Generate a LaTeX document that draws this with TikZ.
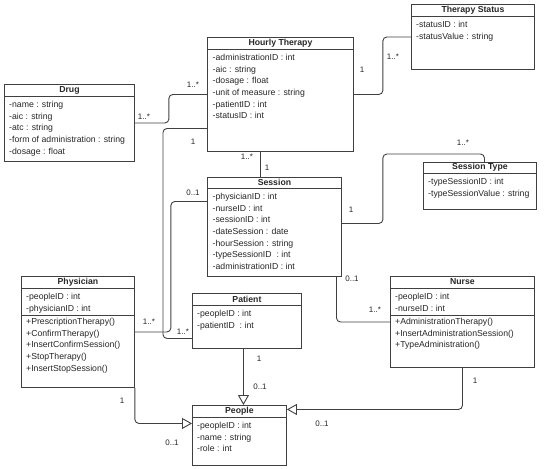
\documentclass[tikz,border=0pt]{standalone}
\usepackage{fontspec}
\setmainfont{Liberation Sans}
\usetikzlibrary{arrows.meta}
\tikzset{every node/.style={font=\fontsize{8.7}{11.65}\selectfont, text=black!85},
         cls/.style={draw=black!75, line width=0.9pt, rectangle, anchor=north west, inner sep=0pt},
         ttl/.style={font=\fontsize{8.7}{11.65}\selectfont\bfseries, inner sep=0pt},
         attr/.style={anchor=north west, align=left, inner sep=0pt},
         mult/.style={font=\fontsize{8}{9}\selectfont, inner sep=0pt},
         sep/.style={draw=black!75, line width=0.9pt},
         link/.style={draw=black!75, line width=0.9pt, rounded corners=4pt},
         gen/.style={link, -{Triangle[open,length=10pt,width=11pt]}}}

\begin{document}
\begin{tikzpicture}[x=1pt,y=-1pt]
   \useasboundingbox (0,0) rectangle (550,469);
   % class boxes
   \node[cls, minimum width=123, minimum height=65] (ts) at (411,4) {};
   \node[ttl] (tsT) at ([yshift=-6]ts.north) {Therapy Status};
   \draw[sep] ([yshift=-12]ts.north west) -- ([yshift=-12]ts.north east);
   \node[attr] (tsA) at ([xshift=5,yshift=-17]ts.north west) {-statusID : int\\-statusValue : string};

   \node[cls, minimum width=146, minimum height=114] (ht) at (207,37) {};
   \node[ttl] (htT) at ([yshift=-6.5]ht.north) {Hourly Therapy};
   \draw[sep] ([yshift=-12]ht.north west) -- ([yshift=-12]ht.north east);
   \node[attr] (htA) at ([xshift=5.5,yshift=-17]ht.north west) {-administrationID : int\\-aic : string\\-dosage : float\\-unit of measure : string\\-patientID : int\\-statusID : int};

   \node[cls, minimum width=130, minimum height=77] (drug) at (4,84) {};
   \node[ttl] (drugT) at ([yshift=-6]drug.north) {Drug};
   \draw[sep] ([yshift=-12]drug.north west) -- ([yshift=-12]drug.north east);
   \node[attr] (drugA) at ([xshift=5,yshift=-17]drug.north west) {-name : string\\-aic : string\\-atc : string\\-form of administration : string\\-dosage : float};

   \node[cls, minimum width=134, minimum height=99] (ses) at (207,177) {};
   \node[ttl] (sesT) at ([yshift=-5.5]ses.north) {Session};
   \draw[sep] ([yshift=-11]ses.north west) -- ([yshift=-11]ses.north east);
   \node[attr] (sesA) at ([xshift=5.5,yshift=-16]ses.north west) {-physicianID : int\\-nurseID : int\\-sessionID : int\\-dateSession : date\\-hourSession : string\\-typeSessionID~~: int\\-administrationID : int};

   \node[cls, minimum width=113, minimum height=47] (st) at (423,162) {};
   \node[ttl] (stT) at ([yshift=-5.5]st.north) {Session Type};
   \draw[sep] ([yshift=-11]st.north west) -- ([yshift=-11]st.north east);
   \node[attr] (stA) at ([xshift=5,yshift=-16]st.north west) {-typeSessionID : int\\-typeSessionValue : string};

   \node[cls, minimum width=113, minimum height=111] (phys) at (21,276) {};
   \node[ttl] (physT) at ([yshift=-6]phys.north) {Physician};
   \draw[sep] ([yshift=-12]phys.north west) -- ([yshift=-12]phys.north east);
   \node[attr] (physA) at ([xshift=5,yshift=-17]phys.north west) {-peopleID : int\\-physicianID : int};
   \draw[sep] ([yshift=-39]phys.north west) -- ([yshift=-39]phys.north east);
   \node[attr] (physM) at ([xshift=5,yshift=-42]phys.north west) {+PrescriptionTherapy()\\+ConfirmTherapy()\\+InsertConfirmSession()\\+StopTherapy()\\+InsertStopSession()};

   \node[cls, minimum width=109, minimum height=55] (pat) at (192,293) {};
   \node[ttl] (patT) at ([yshift=-6]pat.north) {Patient};
   \draw[sep] ([yshift=-12]pat.north west) -- ([yshift=-12]pat.north east);
   \node[attr] (patA) at ([xshift=5,yshift=-17]pat.north west) {-peopleID : int\\-patientID~~: int};

   \node[cls, minimum width=144, minimum height=91] (nurse) at (390,276) {};
   \node[ttl] (nurseT) at ([yshift=-6]nurse.north) {Nurse};
   \draw[sep] ([yshift=-12]nurse.north west) -- ([yshift=-12]nurse.north east);
   \node[attr] (nurseA) at ([xshift=5,yshift=-17]nurse.north west) {-peopleID : int\\-nurseID : int};
   \draw[sep] ([yshift=-39]nurse.north west) -- ([yshift=-39]nurse.north east);
   \node[attr] (nurseM) at ([xshift=5,yshift=-42]nurse.north west) {+AdministrationTherapy()\\+InsertAdministrationSession()\\+TypeAdministration()};

   \node[cls, minimum width=94, minimum height=60] (ppl) at (192,405) {};
   \node[ttl] (pplT) at ([yshift=-6]ppl.north) {People};
   \draw[sep] ([yshift=-12]ppl.north west) -- ([yshift=-12]ppl.north east);
   \node[attr] (pplA) at ([xshift=5,yshift=-17]ppl.north west) {-peopleID : int\\-name : string\\-role : int};

   % associations
   \draw[link] (drug.east) -- ++(34,0) |- (ht.west);
   \draw[link] (ht.east) -- ++(29,0) |- (ts.west);
   \draw[link] ([xshift=-20]ht.south) -- ([xshift=-20]ht.south |- ses.north);
   \draw[link] ([yshift=-34]ht.west) -- ++(-44,0) |- ([yshift=-17.5]pat.west);
   \draw[link] (phys.east) -- ++(36,0) |- ([yshift=25.5]ses.west);
   \draw[link] ([yshift=3.5]ses.east) -- ++(41,0) |- ([xshift=4.5,yshift=8]st.north) -- ([xshift=4.5]st.north);
   \draw[link] ([xshift=62]ses.south) |- (nurse.west);
   % generalisations
   \draw[gen] ([xshift=-3.5]pat.south) -- ([xshift=-3.5]pat.south |- ppl.north);
   \draw[gen] (phys.south east) |- ([yshift=12]ppl.west);
   \draw[gen] (nurse.south) |- ([yshift=26]ppl.east);

   % multiplicities
   \node[mult] (m1)  at (144,117) {1..*};
   \node[mult] (m2)  at (193,85)  {1..*};
   \node[mult] (m3)  at (362,70)  {1};
   \node[mult] (m4)  at (393,57)  {1..*};
   \node[mult] (m5)  at (247,157) {1..*};
   \node[mult] (m6)  at (267,168) {1};
   \node[mult] (m7)  at (193,142) {1};
   \node[mult] (m8)  at (183,332) {1..*};
   \node[mult] (m9)  at (149,322) {1..*};
   \node[mult] (m10) at (193,193) {0..1};
   \node[mult] (m11) at (351,210) {1};
   \node[mult] (m12) at (463,143) {1..*};
   \node[mult] (m13) at (352,279) {0..1};
   \node[mult] (m14) at (375,310) {1..*};
   \node[mult] (m15) at (259,359) {1};
   \node[mult] (m16) at (260,387) {0..1};
   \node[mult] (m17) at (122,401) {1};
   \node[mult] (m18) at (172,443) {0..1};
   \node[mult] (m19) at (475,381) {1};
   \node[mult] (m20) at (322,424) {0..1};
\end{tikzpicture}
\end{document}
